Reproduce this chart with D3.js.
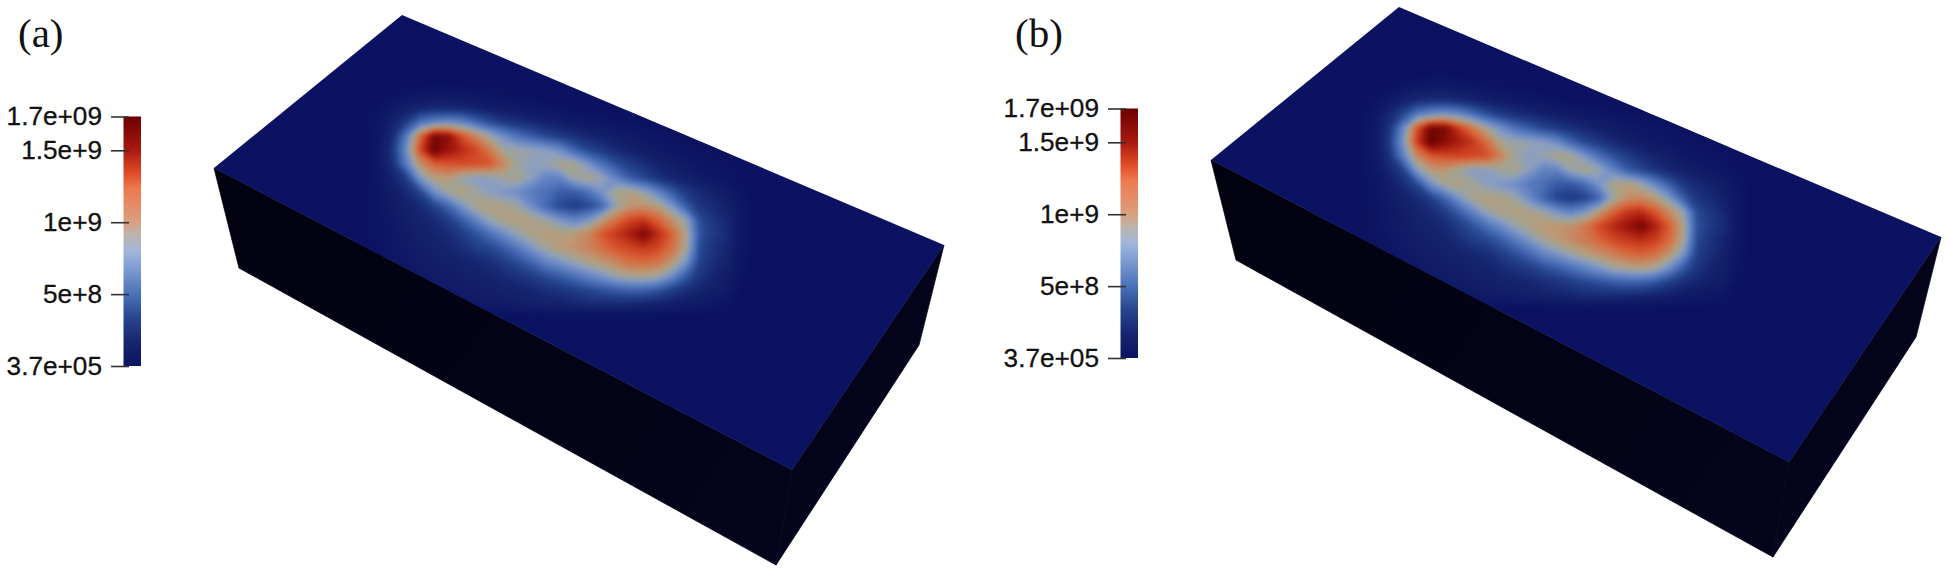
<!DOCTYPE html>
<html>
<head>
<meta charset="utf-8">
<script src="https://cdn.jsdelivr.net/npm/d3@7"></script>
<style>
  html, body { margin: 0; background: #fff; }
  svg { display: block; }
</style>
</head>
<body>
<div id="chart"></div>
<script>
const panelLabels = ["(a)", "(b)"];
const tickValues = [1.735e9, 1.5e9, 1e9, 5e8, 3.7e5];
const tickLabels = ["1.7e+09", "1.5e+9", "1e+9", "5e+8", "3.7e+05"];
const colorValues = [0, 1.6, 3.4, 5, 7.2, 8, 9.1, 10, 12.3, 13.5, 15, 17.35];
const barHexes = ["#0b1360", "#16246e", "#27478f", "#4a72b8", "#8aa6d8", "#a3b6da", "#bcb5ae", "#d9a07f", "#ee7a50", "#dd4a25", "#a81a10", "#6b0000"];
// the lit surface comes out a little duller than the bar
const surfaceHexes = ["#0a1160", "#15236e", "#26458f", "#4469b2", "#7390c8", "#8d9fc0", "#a3a492", "#bb9a78", "#d9673c", "#cf4423", "#a81a10", "#5f0000"];

// stress on the top face, in units of 1e8
const fieldA = [
  [.1,.1,.1,.1,.1,.1,.1,.1,.1,.1,.1,.1,.1,.1,.1,.1,.1,.1,.1,.1,.1,.1,.1,.1,.1,.1,.1,.1,.1],
  [.1,.1,.1,.2,.4,.6,.7,.7,.6,.5,.4,.3,.2,.1,.1,.1,.1,.1,.1,.1,.1,.1,.1,.1,.1,.1,.1,.1,.1],
  [.1,.1,.3,.8,1.3,1.7,1.9,1.9,1.8,1.5,1.2,1,.8,.6,.5,.3,.2,.1,.1,.1,.1,.1,.1,.1,.1,.1,.1,.1,.1],
  [.1,.2,.5,1.6,3,5.5,6.5,7,6.5,5,3.7,2.8,2.3,1.9,1.5,1.2,.9,.7,.5,.4,.3,.2,.1,.1,.1,.1,.1,.1,.1],
  [.1,.2,.6,2,6,12,16.5,16,13,11,8.8,7,5.5,4.5,3.5,2.8,2.3,1.8,1.4,1.1,.8,.6,.5,.3,.2,.1,.1,.1,.1],
  [.1,.2,.7,2.5,7,13.3,17,15.5,14.5,13.5,11.5,9,8.8,8.5,8,7,5,3.5,2.8,2,1.5,1.1,.8,.6,.4,.3,.2,.1,.1],
  [.1,.2,.7,2.2,6,10.5,12.5,13,13.3,13.2,13,11,8.8,8,8.5,9.5,9.3,7.5,5.5,4,3,2.2,1.6,1.2,.8,.5,.4,.3,.1],
  [.1,.2,.6,1.6,3,7.5,9.8,10,8.5,7.8,8,9,9.3,8,6.5,6.5,8.8,9.5,8.5,6.5,4.5,3.5,2.5,1.8,1.4,1,.7,.5,.2],
  [.1,.2,.5,1.2,2,3.5,7,9,9.8,9,8,7.5,7,6,5.5,4.5,4.5,5.5,7.5,9.3,9.7,8.5,6.5,4.5,2.8,2,1.5,1,.4],
  [.1,.2,.5,1,1.5,2,3.2,5,7.5,9.5,9.8,9.5,8.8,7,5,3.5,3,3.5,5,8.5,10.2,10.5,9.7,7.5,4.5,2.6,2,1.4,.5],
  [.1,.2,.4,.8,1.2,1.6,2,3,4.5,6.5,8.5,9.5,9.8,9.5,8.8,7.5,6.5,7.5,9.8,12,13.5,14,12.5,10.5,8.5,3.7,2.6,1.8,.6],
  [.1,.2,.4,.7,1,1.4,1.7,2,3,4,5.5,7,8.5,9.5,10,9.8,10,11,13,14,15,16.5,14.5,12.5,9.5,4,2.8,2,.6],
  [.1,.2,.3,.6,.9,1.2,1.4,1.7,2.2,3,3.5,4.5,6,7.5,9,10,10.5,11,12,13,13.5,14,13.5,12,9.3,3.6,2.4,1.7,.5],
  [.1,.1,.3,.5,.7,1,1.2,1.4,1.6,1.8,2.2,3,3.8,5,6.5,7.5,8.5,9.5,10.2,11,12,12.2,11.8,10.2,7.5,3.2,2.2,1.5,.4],
  [.1,.1,.2,.4,.6,.8,1,1.1,1.3,1.5,1.7,2,2.5,3,3.8,4.5,5.5,6.5,7.5,8.7,9.3,9.5,9,7,4.5,2.6,1.7,1.2,.3],
  [.1,.1,.1,.2,.4,.6,.8,.9,1,1.2,1.3,1.5,1.6,1.8,2.2,2.5,3,3.5,4,4.5,4.8,4.8,4.2,3.2,2.3,1.8,1.3,1,.2],
  [.1,.1,.1,.1,.2,.3,.4,.6,.7,.8,1,1.1,1.2,1.3,1.5,1.6,1.8,2,2,2,1.9,1.7,1.5,1.3,1,.8,.6,.4,.1],
  [.1,.1,.1,.1,.1,.1,.1,.1,.1,.1,.1,.1,.1,.1,.1,.1,.1,.1,.1,.1,.1,.1,.1,.1,.1,.1,.1,.1,.1]
];
const fieldB = [
  [.1,.1,.1,.1,.1,.1,.1,.1,.1,.1,.1,.1,.1,.1,.1,.1,.1,.1,.1,.1,.1,.1,.1,.1,.1,.1,.1,.1,.1],
  [.1,.1,.1,.2,.4,.7,.8,.8,.7,.5,.4,.3,.2,.1,.1,.1,.1,.1,.1,.1,.1,.1,.1,.1,.1,.1,.1,.1,.1],
  [.1,.1,.4,.9,1.5,2,2.2,2.2,2,1.6,1.2,1,.8,.6,.5,.3,.2,.1,.1,.1,.1,.1,.1,.1,.1,.1,.1,.1,.1],
  [.1,.2,.6,1.9,3.5,6,7,7.5,6.8,5.3,3.9,2.8,2.3,1.9,1.5,1.2,.9,.7,.5,.4,.3,.2,.1,.1,.1,.1,.1,.1,.1],
  [.1,.3,.8,2.5,6.7,13,16.8,16.5,13.8,11.5,9,7.2,5.5,4.5,3.5,2.8,2.3,1.8,1.4,1.1,.8,.6,.5,.3,.2,.1,.1,.1,.1],
  [.1,.3,.9,2.8,7.5,13.8,17.2,16,15,14,12,9.2,8.8,8.5,8,7,5,3.5,2.8,2,1.5,1.1,.8,.6,.4,.3,.2,.1,.1],
  [.1,.2,.8,2.4,6.3,10.8,12.8,13.3,13.6,13.5,13.2,11.2,8.9,8,8.5,9.5,9.3,7.5,5.5,4,3,2.2,1.6,1.2,.8,.5,.4,.3,.1],
  [.1,.2,.7,1.8,3.3,7.8,10,10.2,8.8,7.8,8,9,9.4,8,6.5,6.5,8.8,9.5,8.6,6.6,4.6,3.5,2.5,1.8,1.4,1,.7,.5,.2],
  [.1,.2,.5,1.2,2.1,3.7,7.2,9.2,9.8,9,8,7.5,7,6,5.4,4.3,4.3,5.4,7.5,9.4,9.9,8.7,6.7,4.6,2.8,2,1.5,1,.4],
  [.1,.2,.5,1,1.5,2,3.2,5,7.5,9.5,9.8,9.5,8.8,7,4.9,3.3,2.8,3.3,5,8.7,10.5,10.9,10,7.8,4.6,2.6,2,1.4,.5],
  [.1,.2,.4,.8,1.2,1.6,2,3,4.5,6.5,8.5,9.5,9.8,9.5,8.8,7.5,6.5,7.6,10,12.4,14,14.4,13,10.8,8.6,3.7,2.6,1.8,.6],
  [.1,.2,.4,.7,1,1.4,1.7,2,3,4,5.5,7,8.5,9.6,10.2,10.2,10.6,11.6,13.4,14.5,15.5,16.7,15,12.8,9.6,4,2.8,2,.6],
  [.1,.2,.3,.6,.9,1.2,1.4,1.7,2.2,3,3.5,4.5,6,7.5,9,10.1,10.8,11.5,12.4,13.4,13.9,14.3,13.8,12.3,9.4,3.6,2.4,1.7,.5],
  [.1,.1,.3,.5,.7,1,1.2,1.4,1.6,1.8,2.2,3,3.8,5,6.5,7.5,8.7,9.7,10.5,11.3,12.2,12.5,12,10.4,7.6,3.2,2.2,1.5,.4],
  [.1,.1,.2,.4,.6,.8,1,1.1,1.3,1.5,1.7,2,2.5,3,3.8,4.5,5.5,6.5,7.6,8.8,9.4,9.6,9.1,7.1,4.5,2.6,1.7,1.2,.3],
  [.1,.1,.1,.2,.4,.6,.8,.9,1,1.2,1.3,1.5,1.6,1.8,2.2,2.5,3,3.5,4,4.5,4.8,4.8,4.2,3.2,2.3,1.8,1.3,1,.2],
  [.1,.1,.1,.1,.2,.3,.4,.6,.7,.8,1,1.1,1.2,1.3,1.5,1.6,1.8,2,2,2,1.9,1.7,1.5,1.3,1,.8,.6,.4,.1],
  [.1,.1,.1,.1,.1,.1,.1,.1,.1,.1,.1,.1,.1,.1,.1,.1,.1,.1,.1,.1,.1,.1,.1,.1,.1,.1,.1,.1,.1]
];

const width = 1950;
const height = 568;
const panelOffset = [[0, 0], [997, -8]];

// box outline of panel a, panel b is the same box moved by panelOffset
const corner = {
  top: [402, 15], right: [944, 245], near: [792, 470], left: [214, 168],
  lowLeft: [239, 268], lowNear: [776, 565], lowRight: [919, 345]
};
const topFace = [corner.top, corner.right, corner.near, corner.left];
const frontFace = [corner.left, corner.near, corner.lowNear, corner.lowLeft];
const sideFace = [corner.near, corner.right, corner.lowRight, corner.lowNear];

const svg = d3.select("#chart")
  .append("svg")
  .attr("width", width)
  .attr("height", height);

const defs = svg.append("defs");

const barColor = d3.scaleLinear()
  .domain(colorValues)
  .range(barHexes)
  .clamp(true);

const surfaceColor = d3.scaleLinear()
  .domain(colorValues)
  .range(surfaceHexes)
  .clamp(true);

const barGradient = defs.append("linearGradient")
  .attr("id", "barGradient")
  .attr("x1", 0).attr("x2", 0)
  .attr("y1", 1).attr("y2", 0);
barGradient.selectAll("stop")
  .data(colorValues)
  .join("stop")
  .attr("offset", d => d / colorValues[colorValues.length - 1])
  .attr("stop-color", d => barColor(d));

const shade = defs.append("linearGradient")
  .attr("id", "shade")
  .attr("gradientUnits", "userSpaceOnUse")
  .attr("x1", 214).attr("y1", 168)
  .attr("x2", 776).attr("y2", 565);
shade.append("stop").attr("offset", 0).attr("stop-color", "#01010f");
shade.append("stop").attr("offset", 1).attr("stop-color", "#04051c");

// blur in sRGB, linearRGB shifts the dark blues and leaves a visible edge
defs.append("filter")
  .attr("id", "soften")
  .attr("color-interpolation-filters", "sRGB")
  .attr("x", "-5%").attr("y", "-5%")
  .attr("width", "110%").attr("height", "110%")
  .append("feGaussianBlur")
  .attr("stdDeviation", 2.2);

defs.append("clipPath")
  .attr("id", "topClip")
  .append("polygon")
  .attr("points", topFace.join(" "));

const nCols = fieldA[0].length;
const nRows = fieldA.length;
const gridX = d3.scaleLinear().domain([0, nCols - 1]).range([350, 742]);
const gridY = d3.scaleLinear().domain([0, nRows - 1]).range([80, 318]);
const thresholds = d3.range(0.15, 17.5, 0.1);
const contours = d3.contours().size([nCols, nRows]).thresholds(thresholds).smooth(true);

// contours come back in grid units with points offset by half a cell
const gridPath = d3.geoPath(d3.geoTransform({
  point(x, y) { this.stream.point(gridX(x - 0.5), gridY(y - 0.5)); }
}));

function drawBox(g, field) {
  g.selectAll(".side")
    .data([frontFace, sideFace])
    .join("polygon")
    .attr("class", "side")
    .attr("points", d => d.join(" "))
    .attr("fill", "url(#shade)")
    .attr("stroke", "url(#shade)")
    .attr("stroke-width", 0.8);
  g.append("polygon").attr("points", topFace.join(" ")).attr("fill", surfaceColor(0.1));

  g.append("g")
    .attr("clip-path", "url(#topClip)")
    .append("g")
    .attr("filter", "url(#soften)")
    .selectAll("path")
    .data(contours(field.flat()))
    .join("path")
    .attr("d", gridPath)
    .attr("fill", d => surfaceColor(d.value));
}

function drawColorbar(g) {
  const y = d3.scaleLinear().domain([3.7e5, 1.735e9]).range([366, 116.5]);

  g.append("rect")
    .attr("x", 123.5)
    .attr("y", y.range()[1])
    .attr("width", 17.5)
    .attr("height", y.range()[0] - y.range()[1])
    .attr("fill", "url(#barGradient)");

  const axis = g.append("g")
    .attr("transform", "translate(129,0)")
    .call(d3.axisLeft(y)
      .tickValues(tickValues)
      .tickFormat((d, i) => tickLabels[i])
      .tickSize(18)
      .tickPadding(9));

  axis.select(".domain").remove();
  axis.selectAll("line").attr("stroke", "#333").attr("stroke-width", 1.6);
  axis.selectAll("text")
    .attr("fill", "#111")
    .attr("stroke", "#111")
    .attr("stroke-width", 0.3)
    .style("font-family", "'Liberation Sans', sans-serif")
    .style("font-size", "26.2px");
}

[fieldA, fieldB].forEach((field, i) => {
  const g = svg.append("g")
    .attr("transform", `translate(${panelOffset[i][0]},${panelOffset[i][1]})`);
  drawBox(g, field);
  drawColorbar(g);
});

svg.selectAll(".panelLabel")
  .data(panelLabels)
  .join("text")
  .attr("class", "panelLabel")
  .attr("x", (d, i) => [18, 1015][i])
  .attr("y", 47)
  .style("font-family", "'Liberation Serif', serif")
  .style("font-size", "41px")
  .attr("fill", "#111")
  .text(d => d);
</script>
</body>
</html>
